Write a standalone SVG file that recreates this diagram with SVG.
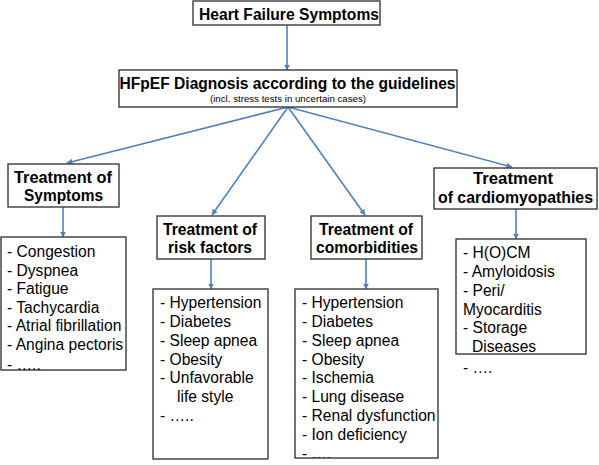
<svg xmlns="http://www.w3.org/2000/svg" width="599" height="465" viewBox="0 0 599 465">
<style>
.box{fill:#fff;stroke:#3a3a3a;stroke-width:1.4}
.hd{font-family:"Liberation Sans",Arial,sans-serif;font-weight:bold;font-size:16px;fill:#000}
.ls{font-family:"Liberation Sans",Arial,sans-serif;font-size:15.6px;fill:#000}
.sm{font-family:"Liberation Sans",Arial,sans-serif;font-size:9.5px;fill:#000}
.c{text-anchor:middle}
.ar{stroke:#4f81bd;stroke-width:1.6;fill:none;marker-end:url(#ah)}
</style>
<defs>
<marker id="ah" markerUnits="userSpaceOnUse" markerWidth="6" markerHeight="6" refX="5.5" refY="3" orient="auto">
<path d="M0,0 L6,3 L0,6 z" fill="#4f81bd"/>
</marker>
<clipPath id="cp1"><rect x="1" y="237" width="125" height="133"/></clipPath>
<clipPath id="cp3"><rect x="295" y="289" width="143" height="169"/></clipPath>
</defs>
<rect width="599" height="465" fill="#fff"/>
<g id="connectors">
<line class="ar" x1="287" y1="25" x2="287" y2="70"/>
<line class="ar" x1="288" y1="107" x2="67" y2="163"/>
<line class="ar" x1="288" y1="107" x2="212" y2="215"/>
<line class="ar" x1="288" y1="107" x2="365" y2="215"/>
<line class="ar" x1="288" y1="107" x2="512" y2="167"/>
<line class="ar" x1="63" y1="207" x2="63" y2="237"/>
<line class="ar" x1="211" y1="259" x2="211" y2="289"/>
<line class="ar" x1="366" y1="259" x2="366" y2="289"/>
<line class="ar" x1="516" y1="209" x2="516" y2="239"/>
</g>
<g id="top">
<rect class="box" x="193" y="1" width="187" height="24"/>
<text class="hd" x="199" y="20" textLength="180" lengthAdjust="spacingAndGlyphs">Heart Failure Symptoms</text>
</g>
<g id="diagnosis">
<rect class="box" x="119" y="70" width="338" height="37"/>
<text class="hd" x="119.5" y="89" textLength="336" lengthAdjust="spacingAndGlyphs">HFpEF Diagnosis according to the guidelines</text>
<text class="sm c" x="288" y="102" textLength="156" lengthAdjust="spacingAndGlyphs">(incl. stress tests in uncertain cases)</text>
</g>
<g id="symptoms">
<rect class="box" x="8" y="164" width="111" height="43"/>
<text class="hd" x="14" y="183" textLength="98" lengthAdjust="spacingAndGlyphs">Treatment  of</text>
<text class="hd" x="24" y="201" textLength="79" lengthAdjust="spacingAndGlyphs">Symptoms</text>
</g>
<g id="symptoms-list">
<rect class="box" x="1" y="237" width="125" height="133"/>
<g class="ls" clip-path="url(#cp1)">
<text x="7" y="257">- Congestion</text>
<text x="7" y="275.5">- Dyspnea</text>
<text x="7" y="294">- Fatigue</text>
<text x="7" y="312.5">- Tachycardia</text>
<text x="7" y="331">- Atrial fibrillation</text>
<text x="7" y="350">- Angina pectoris</text>
<text x="7" y="369.5">-    …..</text>
</g>
</g>
<g id="risk">
<rect class="box" x="157" y="216" width="108" height="43"/>
<text class="hd" x="163" y="235" textLength="94" lengthAdjust="spacingAndGlyphs">Treatment of</text>
<text class="hd" x="168" y="253" textLength="84" lengthAdjust="spacingAndGlyphs">risk factors</text>
</g>
<g id="risk-list">
<rect class="box" x="153" y="289" width="115" height="170"/>
<g class="ls">
<text x="160" y="308">- Hypertension</text>
<text x="160" y="327">- Diabetes</text>
<text x="160" y="346">- Sleep apnea</text>
<text x="160" y="364.5">- Obesity</text>
<text x="160" y="383">- Unfavorable</text>
<text x="177" y="402">life style</text>
<text x="160" y="421">- …..</text>
</g>
</g>
<g id="comorbidities">
<rect class="box" x="311" y="216" width="111" height="43"/>
<text class="hd" x="319" y="235" textLength="94" lengthAdjust="spacingAndGlyphs">Treatment of</text>
<text class="hd" x="316" y="253" textLength="102" lengthAdjust="spacingAndGlyphs">comorbidities</text>
</g>
<g id="comorbidities-list">
<rect class="box" x="295" y="289" width="143" height="169"/>
<g class="ls" clip-path="url(#cp3)">
<text x="302" y="308">- Hypertension</text>
<text x="302" y="327">- Diabetes</text>
<text x="302" y="346">- Sleep apnea</text>
<text x="302" y="364.5">- Obesity</text>
<text x="302" y="383">- Ischemia</text>
<text x="302" y="402">- Lung disease</text>
<text x="302" y="421">- Renal dysfunction</text>
<text x="302" y="439.5">- Ion deficiency</text>
<text x="302" y="459">-    ….</text>
</g>
</g>
<g id="cardiomyopathies">
<rect class="box" x="434" y="168" width="163" height="41"/>
<text class="hd" x="473" y="184" textLength="80" lengthAdjust="spacingAndGlyphs">Treatment</text>
<text class="hd" x="438" y="203" textLength="155" lengthAdjust="spacingAndGlyphs">of cardiomyopathies</text>
</g>
<g id="cardiomyopathies-list">
<rect class="box" x="456" y="239" width="130" height="115"/>
<g class="ls">
<text x="463" y="258">- H(O)CM</text>
<text x="463" y="277">- Amyloidosis</text>
<text x="463" y="296">- Peri/</text>
<text x="463" y="314.5">Myocarditis</text>
<text x="463" y="333">- Storage</text>
<text x="472" y="352">Diseases</text>
<text x="463" y="373">-    ….</text>
</g>
</g>
</svg>
